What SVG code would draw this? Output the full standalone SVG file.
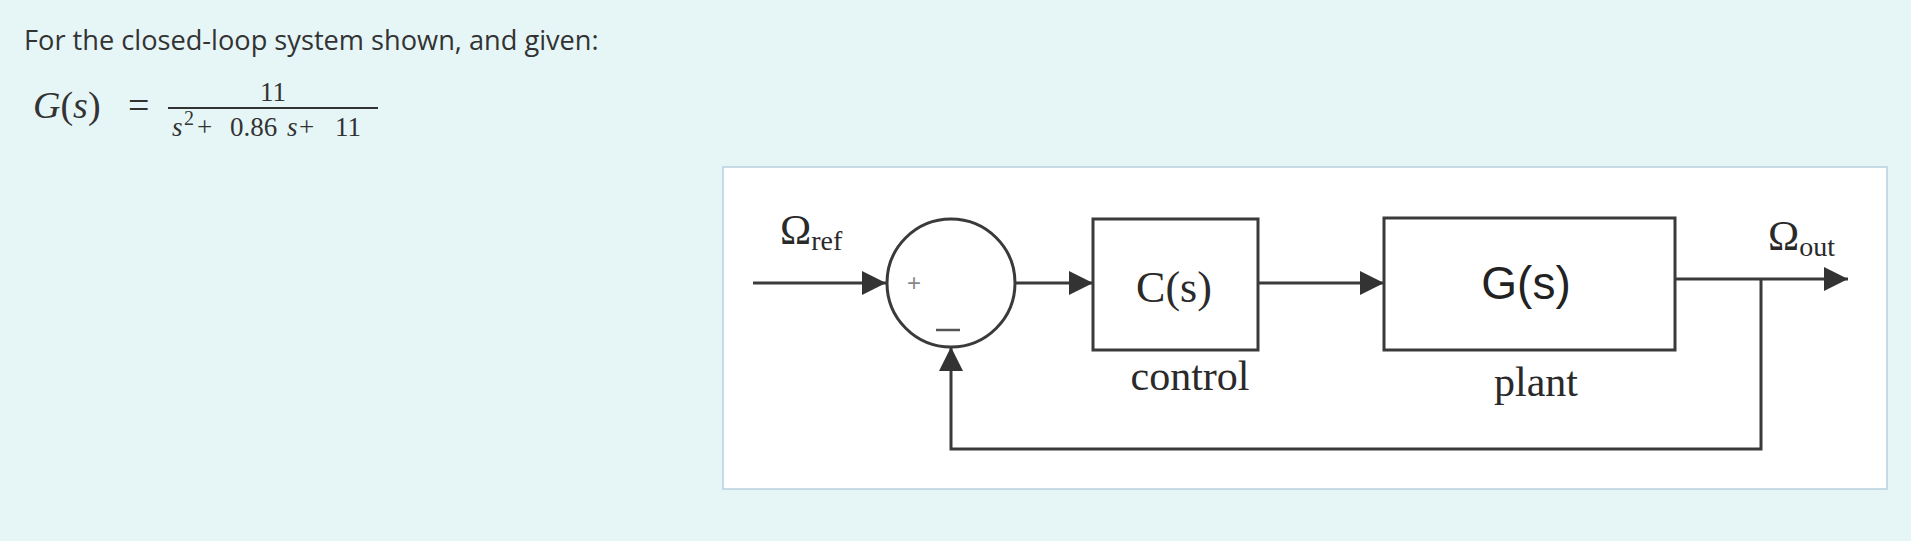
<svg xmlns="http://www.w3.org/2000/svg" width="1911" height="541" viewBox="0 0 1911 541">
<defs>
<marker id="ah" viewBox="0 0 10 10" refX="10" refY="5" markerWidth="26" markerHeight="24" markerUnits="userSpaceOnUse" orient="auto">
<path d="M0,0 L10,5 L0,10 z" fill="#333"/>
</marker>
<style>
.ln{fill:none;stroke:#3a3a3a;stroke-width:3}
.bx{fill:#fff;stroke:#3a3a3a;stroke-width:3}
.tm{font-family:"Liberation Serif",serif;fill:#2a2a2a}
.mj{font-family:"Liberation Serif","DejaVu Serif",serif;fill:#333}
</style>
</defs>
<rect width="1911" height="541" fill="#e6f6f7"/>
<text x="24" y="50" font-family="Open Sans, sans-serif" font-size="27.2" fill="#333">For the closed-loop system shown, and given:</text>
<g id="formula">
<text x="33" y="118" class="mj" font-size="38"><tspan font-style="italic">G</tspan>(<tspan font-style="italic">s</tspan>)<tspan x="128">=</tspan></text>
<text x="273" y="101" class="mj" font-size="27" text-anchor="middle">11</text>
<line x1="168" y1="108" x2="378" y2="108" stroke="#333" stroke-width="2"/>
<text y="136" class="mj" font-size="27"><tspan x="172" font-style="italic">s</tspan><tspan x="184" y="125" font-size="20">2</tspan><tspan x="197" y="136">+</tspan><tspan x="230">0.86</tspan><tspan x="287" font-style="italic">s</tspan><tspan x="299">+</tspan><tspan x="335">11</tspan></text>
</g>
<rect x="723" y="167" width="1164" height="322" fill="#fff" stroke="#b8d0e0" stroke-width="1.5"/>
<g id="connectors">
<path class="ln" d="M753,283 L886,283" marker-end="url(#ah)"/>
<path class="ln" d="M1015,283 L1093,283" marker-end="url(#ah)"/>
<path class="ln" d="M1258,283 L1384,283" marker-end="url(#ah)"/>
<path class="ln" d="M1675,279 L1848,279" marker-end="url(#ah)"/>
<path class="ln" d="M1761,279 L1761,449 L951,449 L951,347" marker-end="url(#ah)"/>
</g>
<g id="sum">
<circle cx="951" cy="283" r="64" class="bx"/>
<text x="914" y="291" font-family="Liberation Sans,sans-serif" font-size="24" fill="#888" text-anchor="middle">+</text>
<line x1="936" y1="330" x2="960" y2="330" stroke="#555" stroke-width="2.5"/>
</g>
<g id="control">
<rect x="1093" y="219" width="165" height="131" class="bx"/>
<text x="1174" y="302" class="tm" font-size="44" text-anchor="middle">C(s)</text>
<text x="1190" y="390" class="tm" font-size="42" text-anchor="middle">control</text>
</g>
<g id="plant">
<rect x="1384" y="218" width="291" height="132" class="bx"/>
<text x="1526" y="299" font-family="Liberation Sans,sans-serif" font-size="46" fill="#222" text-anchor="middle">G(s)</text>
<text x="1536" y="396" class="tm" font-size="42" text-anchor="middle">plant</text>
</g>
<text x="780" y="244" class="tm" font-size="42">Ω<tspan font-size="28" dy="6">ref</tspan></text>
<text x="1768" y="250" class="tm" font-size="42">Ω<tspan font-size="28" dy="6">out</tspan></text>
</svg>
